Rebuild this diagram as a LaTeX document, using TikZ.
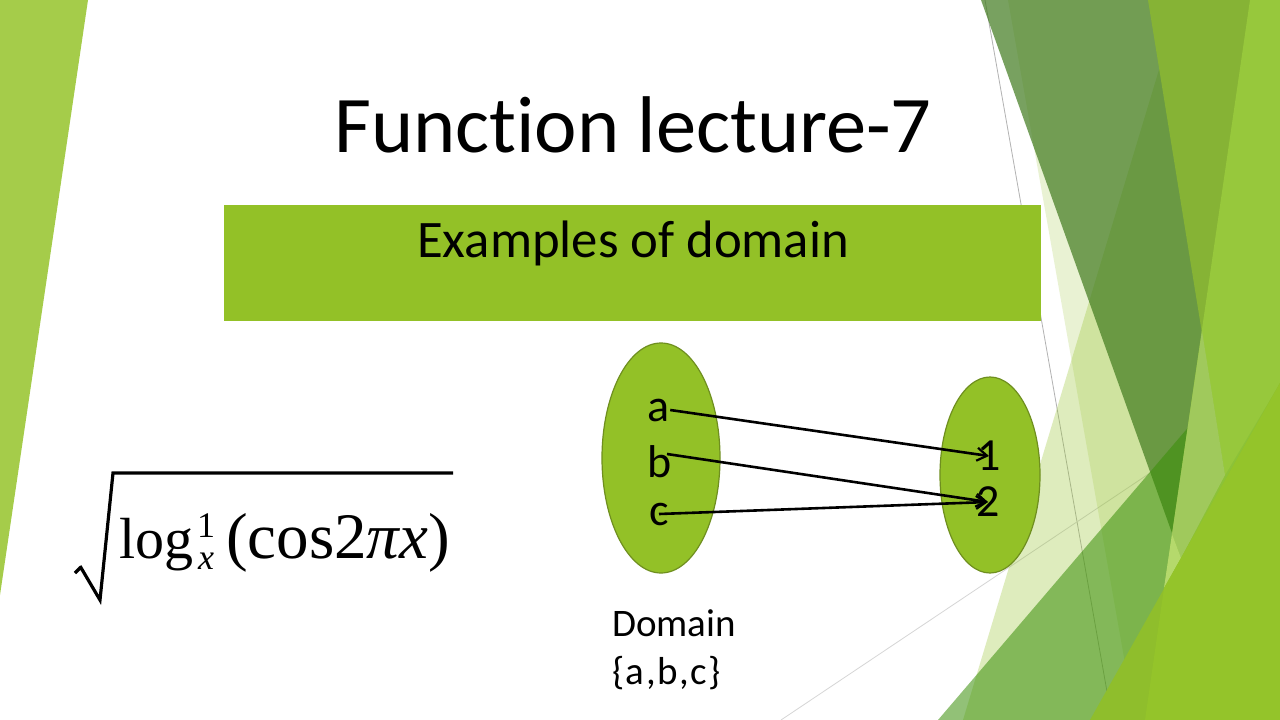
\documentclass[tikz,border=0pt]{standalone}
\usepackage{fontspec}
\setmainfont[Ligatures=NoCommon]{Carlito}
\newfontfamily\mathf{Liberation Serif}
\usetikzlibrary{arrows.meta}
\definecolor{gbright}{HTML}{93C127}
\definecolor{gband}{HTML}{93C127}
\definecolor{gleft}{HTML}{A5CC4A}
\definecolor{gedge}{HTML}{6F8F1F}
\definecolor{gdark}{RGB}{64,122,29}
\definecolor{gmid}{RGB}{57,143,8}
\definecolor{gmed}{RGB}{134,179,53}
\definecolor{glime}{RGB}{156,206,62}
\definecolor{gfloor}{HTML}{8FBE2C}
\definecolor{gfloorb}{HTML}{94C42A}
\definecolor{gpalea}{HTML}{A0C95C}
\definecolor{gpaleb}{HTML}{B5D96C}
\tikzset{
 x=1pt,y=-1pt,
 facet/.style={draw=none,fill=#1},
 txt/.style={inner sep=0pt,text=black,anchor=base west},
 item/.style={inner sep=0pt,text=black,font=\fontsize{46}{46}\selectfont},
 setov/.style={draw=gedge,line width=1.2pt,fill=gbright},
 map/.style={draw=black,line width=2.6pt,-{Straight Barb[length=10pt,width=13pt,line width=2.2pt]}},
 mth/.style={inner sep=0pt,anchor=base west,text=black},
 hair/.style={line width=.8pt}
}
\begin{document}
\begin{tikzpicture}
\useasboundingbox (0,0) rectangle (1280,720);
\fill[white] (0,0) rectangle (1280,720);
% left facet
\fill[facet=gleft] (0,0) -- (88,0) -- (0,595) -- cycle;
% hair lines
\draw[hair,color=black!30] (985,0) -- (1112,720);
\draw[hair,color=black!16] (781,720) -- (1150,473);
% right facets
\fill[facet=gbright,opacity=.3] (1180,0) -- (963,720) -- (1280,720) -- (1280,0) -- cycle;
\fill[facet=gbright,opacity=.2] (1008,0) -- (1135,720) -- (1280,720) -- (1280,0) -- cycle;
\fill[facet=gdark,opacity=.7] (981,0) -- (1239,720) -- (1280,720) -- (1280,0) -- cycle;
\fill[facet=gmid,opacity=.55] (938,720) -- (1280,320) -- (1280,720) -- cycle;
\fill[facet=gmed] (1148,0) -- (1280,0) -- (1280,383) -- (1225,475) -- cycle;
\fill[facet=glime,opacity=.8] (1250,0) -- (1145,720) -- (1280,720) -- (1280,0) -- cycle;
\fill[facet=gpalea] (1202,331) -- (1225,475) -- (1181,558) -- (1172,534) -- cycle;
\fill[facet=gpaleb] (1172,534) -- (1181,558) -- (1164,588) -- cycle;
\fill[facet=gfloor] (1280,383) -- (1280,720) -- (1090,720) -- cycle;
\fill[facet=gfloorb] (1280,383) -- (1280,720) -- (1145,720) -- (1164,588) -- cycle;
% banner
\fill[gband] (224,205) rectangle (1041,321);
\node[txt,font=\fontsize{80.4}{81}\selectfont] (title) at (334,152) {Function lecture-7};
\node[txt,font=\fontsize{52.7}{53}\selectfont] (sub) at (417,257) {Examples of domain};
% ovals
\draw[setov] (661,458) ellipse [x radius=59,y radius=115];
\draw[setov] (990,475) ellipse [x radius=50,y radius=98];
\node[item] (a) at (659,410) {a};
\node[item] (b) at (660,462) {b};
\node[item] (c) at (659,514) {c};
\node[item] (n1) at (989,456) {1};
\node[item] (n2) at (988,502) {2};
\coordinate (bs) at (667,454);
\draw[map] (a.east) -- (n1.center);
\draw[map] (bs) -- (n2.center);
\draw[map] (c.center) -- (n2.center);
\node[txt,font=\fontsize{39}{39}\selectfont] (d1) at (612,636) {Domain};
\node[txt,font=\fontsize{39}{39}\selectfont\addfontfeature{LetterSpace=4}] (d2) at (612,684) {\{a,b,c\}};
% formula
\draw[line width=3.2pt,line join=miter,black] (75,573) -- (81,567) (80,566) -- (100,600) -- (113,473) -- (453,473);
\node[mth,font=\mathf\fontsize{58}{58}\selectfont] (log) at (119,558) {log};
\node[inner sep=0pt,text=black,align=center,font=\mathf\fontsize{36}{32}\selectfont] (lim) at (206,542) {1\\{\itshape x}};
\node[mth,font=\mathf\fontsize{65}{65}\selectfont] (arg) at (226,558) {(cos2{\itshape πx})};
\end{tikzpicture}
\end{document}
